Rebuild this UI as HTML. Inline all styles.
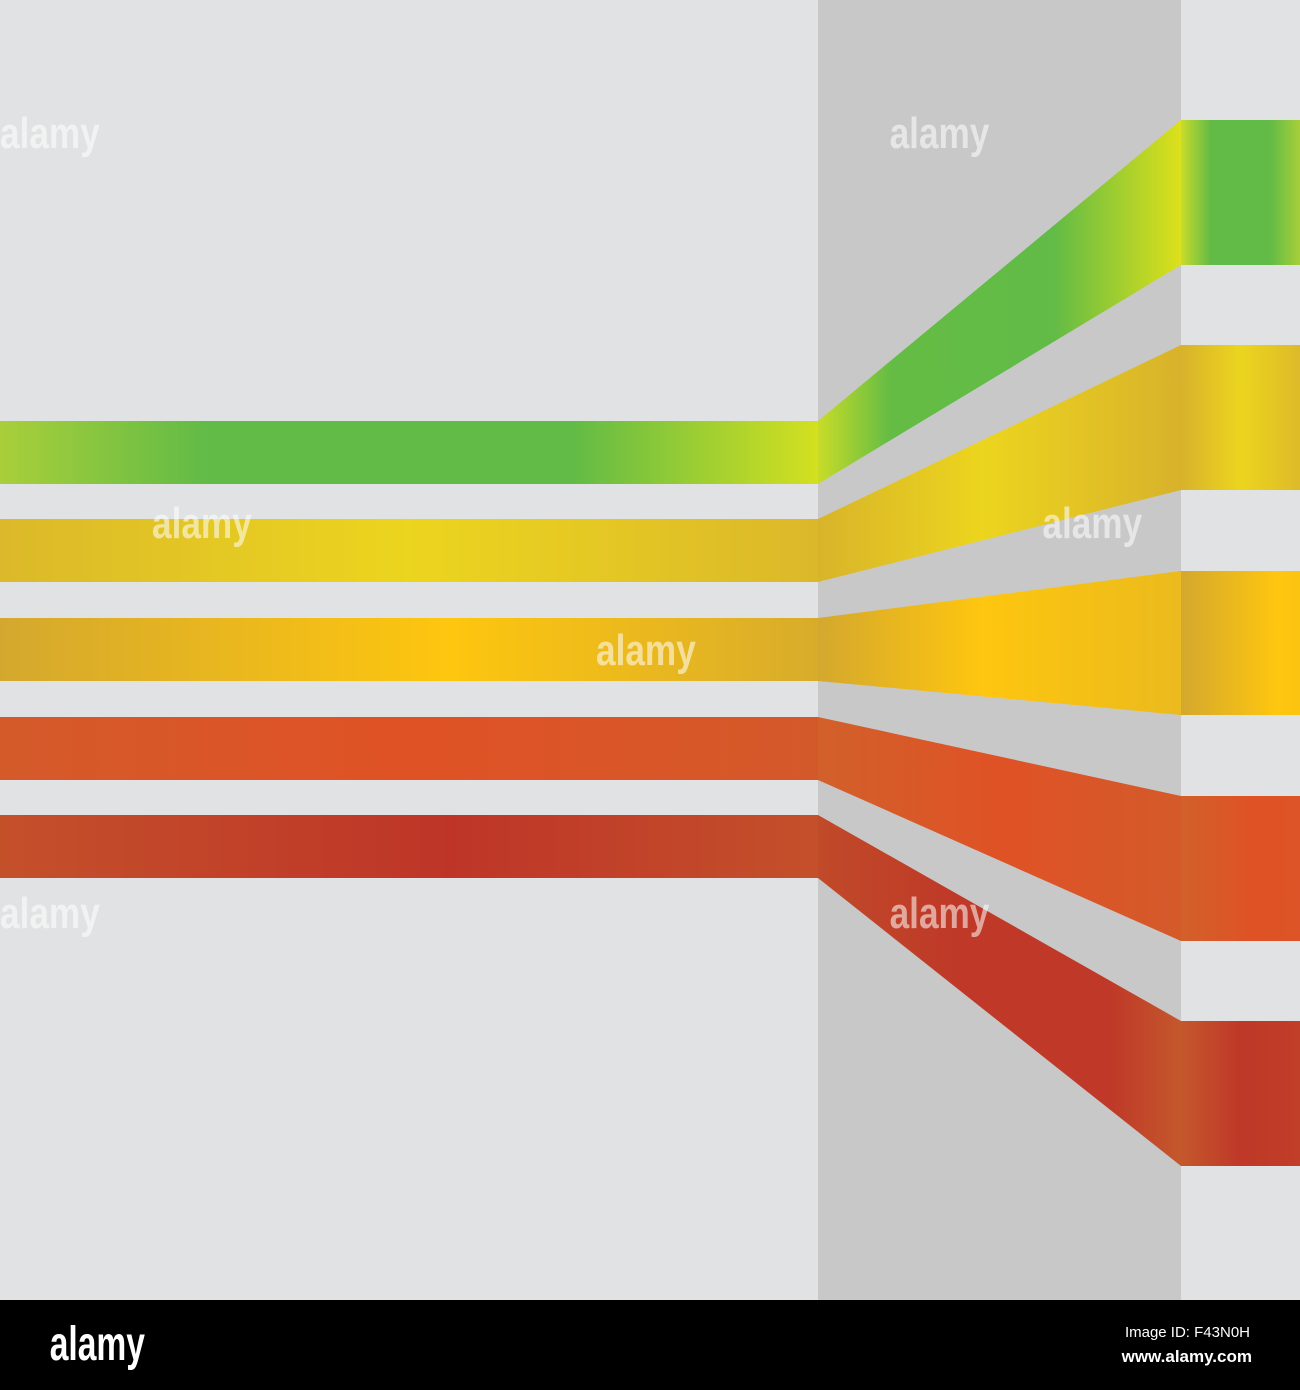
<!DOCTYPE html>
<html><head><style>
html,body{margin:0;padding:0;width:1300px;height:1390px;overflow:hidden;background:#000}
svg{display:block}
</style></head><body>
<svg width="1300" height="1390" xmlns="http://www.w3.org/2000/svg">
<defs>
<linearGradient id="gL" x1="0" x2="818" gradientUnits="userSpaceOnUse"><stop offset="0" stop-color="#a9cf3a"/><stop offset="0.25" stop-color="#62bb46"/><stop offset="0.7" stop-color="#62bb46"/><stop offset="1" stop-color="#d4e020"/></linearGradient>
<linearGradient id="gM" x1="818" x2="1181" gradientUnits="userSpaceOnUse"><stop offset="0" stop-color="#c8dc28"/><stop offset="0.2" stop-color="#64bc45"/><stop offset="0.65" stop-color="#62bb46"/><stop offset="1" stop-color="#dde01a"/></linearGradient>
<linearGradient id="gR" x1="1181" x2="1300" gradientUnits="userSpaceOnUse"><stop offset="0" stop-color="#c9dc2b"/><stop offset="0.25" stop-color="#62bb46"/><stop offset="0.75" stop-color="#62bb46"/><stop offset="1" stop-color="#a7cf3a"/></linearGradient>
<linearGradient id="yL" x1="0" x2="818" gradientUnits="userSpaceOnUse"><stop offset="0" stop-color="#dbb92a"/><stop offset="0.5" stop-color="#ecd51e"/><stop offset="1" stop-color="#dbb82a"/></linearGradient>
<linearGradient id="yM" x1="818" x2="1181" gradientUnits="userSpaceOnUse"><stop offset="0" stop-color="#d8b42a"/><stop offset="0.45" stop-color="#ecd51e"/><stop offset="1" stop-color="#d8b22b"/></linearGradient>
<linearGradient id="yR" x1="1181" x2="1300" gradientUnits="userSpaceOnUse"><stop offset="0" stop-color="#d8b22b"/><stop offset="0.5" stop-color="#ecd51e"/><stop offset="1" stop-color="#ddba29"/></linearGradient>
<linearGradient id="aL" x1="0" x2="818" gradientUnits="userSpaceOnUse"><stop offset="0" stop-color="#d4a82e"/><stop offset="0.55" stop-color="#fec60f"/><stop offset="1" stop-color="#d8ac2b"/></linearGradient>
<linearGradient id="aM" x1="818" x2="1181" gradientUnits="userSpaceOnUse"><stop offset="0" stop-color="#d4a82e"/><stop offset="0.45" stop-color="#fec60f"/><stop offset="1" stop-color="#ebba1d"/></linearGradient>
<linearGradient id="aR" x1="1181" x2="1300" gradientUnits="userSpaceOnUse"><stop offset="0" stop-color="#d4a82e"/><stop offset="0.8" stop-color="#fec60f"/><stop offset="1" stop-color="#fbc411"/></linearGradient>
<linearGradient id="oL" x1="0" x2="818" gradientUnits="userSpaceOnUse"><stop offset="0" stop-color="#d45a2a"/><stop offset="0.5" stop-color="#df5226"/><stop offset="1" stop-color="#d4592a"/></linearGradient>
<linearGradient id="oM" x1="818" x2="1181" gradientUnits="userSpaceOnUse"><stop offset="0" stop-color="#d2602b"/><stop offset="0.5" stop-color="#df5226"/><stop offset="1" stop-color="#d45a2a"/></linearGradient>
<linearGradient id="oR" x1="1181" x2="1300" gradientUnits="userSpaceOnUse"><stop offset="0" stop-color="#d2602b"/><stop offset="0.6" stop-color="#df5226"/><stop offset="1" stop-color="#dc5427"/></linearGradient>
<linearGradient id="rL" x1="0" x2="818" gradientUnits="userSpaceOnUse"><stop offset="0" stop-color="#c4502a"/><stop offset="0.55" stop-color="#be3528"/><stop offset="1" stop-color="#c4502a"/></linearGradient>
<linearGradient id="rM" x1="818" x2="1181" gradientUnits="userSpaceOnUse"><stop offset="0" stop-color="#c04a29"/><stop offset="0.4" stop-color="#bf3828"/><stop offset="0.8" stop-color="#bf3828"/><stop offset="1" stop-color="#c4582c"/></linearGradient>
<linearGradient id="rR" x1="1181" x2="1300" gradientUnits="userSpaceOnUse"><stop offset="0" stop-color="#c4582c"/><stop offset="0.5" stop-color="#bf3828"/><stop offset="1" stop-color="#c13e28"/></linearGradient>
</defs>
<rect x="0" y="0" width="1300" height="1300" fill="#e1e2e3"/>
<rect x="818" y="0" width="363" height="1300" fill="#c8c8c9"/>
<rect x="0" y="421" width="818" height="63" fill="url(#gL)"/>
<polygon points="818,421 1181,120 1181,265 818,484" fill="url(#gM)"/>
<rect x="1181" y="120" width="119" height="145" fill="url(#gR)"/>
<rect x="0" y="519" width="818" height="63" fill="url(#yL)"/>
<polygon points="818,519 1181,345 1181,490 818,582" fill="url(#yM)"/>
<rect x="1181" y="345" width="119" height="145" fill="url(#yR)"/>
<rect x="0" y="618" width="818" height="63" fill="url(#aL)"/>
<polygon points="818,618 1181,571 1181,715 818,681" fill="url(#aM)"/>
<rect x="1181" y="571" width="119" height="144" fill="url(#aR)"/>
<rect x="0" y="717" width="818" height="63" fill="url(#oL)"/>
<polygon points="818,717 1181,796 1181,941 818,780" fill="url(#oM)"/>
<rect x="1181" y="796" width="119" height="145" fill="url(#oR)"/>
<rect x="0" y="815" width="818" height="63" fill="url(#rL)"/>
<polygon points="818,815 1181,1021 1181,1166 818,878" fill="url(#rM)"/>
<rect x="1181" y="1021" width="119" height="145" fill="url(#rR)"/>
<g fill="#ffffff" fill-opacity="0.55" font-family="Liberation Sans, sans-serif" font-weight="bold" font-size="44" transform="scale(0.8,1)">
<text x="0" y="148">alamy</text><text x="1112" y="148">alamy</text>
<text x="190" y="538">alamy</text><text x="1303" y="538">alamy</text>
<text x="745" y="665">alamy</text>
<text x="0" y="928">alamy</text><text x="1112" y="928">alamy</text>
</g>
<text x="71" y="1360" fill="#fff" font-family="Liberation Sans, sans-serif" font-weight="bold" font-size="48" transform="scale(0.7,1)">alamy</text>
<text x="1250" y="1337" fill="#fff" text-anchor="end" font-family="Liberation Sans, sans-serif" font-size="15">Image ID: F43N0H</text>
<text x="1252" y="1362" fill="#fff" text-anchor="end" font-family="Liberation Sans, sans-serif" font-weight="bold" font-size="17">www.alamy.com</text>
</svg>
</body></html>
